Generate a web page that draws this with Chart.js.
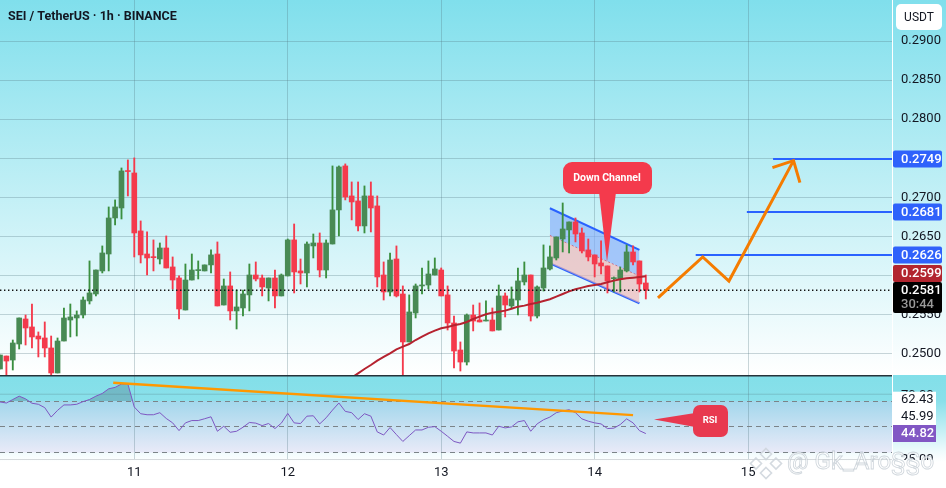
<!DOCTYPE html>
<html>
<head>
<meta charset="utf-8">
<title>SEI / TetherUS</title>
<script src="https://cdn.jsdelivr.net/npm/chart.js@4"></script>
<style>
  html, body { margin: 0; padding: 0; background: #fff; }
  #wrap { width: 946px; height: 488px; }
</style>
</head>
<body>
<div id="wrap"><canvas id="c"></canvas></div>
<script>
const firstHour = -21;
const opens = [.24802,.24968,.24917,.25122,.25442,.25340,.25224,.25199,.25071,.24751,.25160,.25429,.25455,.25493,.25673,.25762,.26057,.26274,.26735,.26863,.27337,
  .27311,.26569,.26274,.26236,.26210,.26351,.26108,.25967,.25557,.25941,.26061,.26057,.26134,.26274,.25621,.25865,.25545,.25583,.25750,.26005,.25967,.25839,.25967,.25737,.25993,
  .26454,.26057,.26031,.26377,.26415,.26069,.26402,.26838,.27401,.27017,.26953,.26633,.27017,.26889,.26005,.25788,.26210,.25762,.25148,.25519,.25865,.25877,.26005,.26069,.25750,
  .25391,.25045,.24891,.25493,.25429,.25416,.25429,.25301,.25737,.25609,.25685,.25916,.26005,.25480,.25839,.26082,.26223,.26466,.26582,.26684,.26543,.26326,.26262,.26159,.26121,
  .25958,.25954,.26057,.26300,.26185,.25903];
const highs = [.24981,.24968,.25173,.25455,.25493,.25634,.25276,.25404,.25224,.25199,.25583,.25634,.25545,.25724,.26185,.26069,.26377,.26876,.26966,.27375,.27478,
  .27504,.26697,.26556,.26454,.26415,.26505,.26236,.25993,.26146,.26274,.26185,.26134,.26326,.26428,.25954,.26044,.25813,.25813,.26146,.26172,.26005,.25967,.26069,.26018,.26466,
  .26658,.26210,.26428,.26530,.26543,.26454,.27401,.27401,.27427,.27196,.27196,.27145,.27196,.27017,.26172,.26287,.26377,.25865,.25750,.25890,.26095,.26185,.26223,.26095,.25865,
  .25480,.25148,.25506,.25621,.25647,.25673,.25583,.25877,.25775,.25852,.26095,.26172,.26005,.25865,.26390,.26377,.26492,.26927,.26684,.26735,.26607,.26466,.26262,.26441,.26121,
  .25980,.26108,.26390,.26377,.26185,.26005];
const lows = [.24802,.24725,.24789,.25058,.25109,.25071,.24956,.24956,.24725,.24751,.25160,.25212,.25224,.25455,.25634,.25737,.26031,.26057,.26646,.26722,.27017,
  .26236,.26159,.26005,.26057,.26146,.26095,.25826,.25442,.25557,.25941,.25954,.26057,.26031,.25609,.25621,.25429,.25314,.25480,.25545,.25929,.25737,.25673,.25583,.25737,.25993,
  .25775,.25890,.25852,.26223,.25980,.25967,.26402,.26505,.26966,.26710,.26569,.26543,.26556,.25852,.25685,.25737,.25724,.24725,.25148,.25455,.25762,.25826,.26005,.25737,.25301,
  .24815,.24776,.24853,.25289,.25404,.25416,.25289,.25301,.25468,.25583,.25493,.25877,.25416,.25455,.25800,.26069,.26197,.26300,.26287,.26428,.26287,.26185,.25980,.26018,.25775,
  .25788,.25788,.26044,.26134,.25788,.25698];
const closes = [.24981,.24904,.25135,.25455,.25327,.25212,.25186,.25071,.24751,.25160,.25455,.25468,.25493,.25685,.25775,.26069,.26287,.26735,.26876,.27337,.27329,
  .26543,.26262,.26223,.26227,.26351,.26095,.25941,.25570,.25941,.26069,.26069,.26134,.26262,.25609,.25865,.25545,.25596,.25762,.26005,.25954,.25852,.25967,.25737,.26005,.26454,
  .26044,.26031,.26402,.26415,.26069,.26415,.26838,.27388,.27004,.26940,.26633,.27017,.26863,.25980,.25788,.26197,.25737,.25148,.25532,.25865,.25877,.26018,.26082,.25737,.25391,
  .25032,.24891,.25493,.25416,.25404,.25429,.25289,.25737,.25621,.25698,.25929,.26005,.25480,.25852,.26095,.26236,.26492,.26594,.26684,.26530,.26313,.26236,.26146,.26121,.25929,
  .25967,.26069,.26300,.26172,.25890,.25810];

const emaHours = [34,35,36,37,38,39,40,41,42,43,44,45,46,47,48,49,50,51,52,53,54,55,56,57,58,59,60,61,62,63,64,65,66,67,68,69,70,71,72,73,74,75,76,77,78,79,80];
const emaValues = [.24690,.24746,.24802,.24853,.24909,.24956,.25003,.25054,.25088,.25122,.25173,.25216,.25259,.25293,.25323,.25340,.25361,.25378,.25404,.25442,.25472,.25502,.25523,.25536,.25549,
  .25574,.25600,.25613,.25634,.25651,.25673,.25694,.25728,.25762,.25796,.25822,.25843,.25865,.25877,.25890,.25912,.25933,.25950,.25963,.25971,.25980,.25988];

const rsiValues = [69.3,68.5,71.2,73.8,71.7,68.3,67.5,64.9,57.6,62.8,67.0,67.0,67.5,69.6,71.2,73.8,75.9,79.5,80.6,83.2,83.2,
  65.4,60.2,59.4,59.4,61.0,56.5,53.1,47.1,53.1,54.9,54.9,56.3,57.8,46.6,50.5,45.8,46.6,49.7,53.4,52.9,51.0,52.6,48.7,52.9,60.4,
  53.1,52.6,58.3,58.6,52.3,57.0,63.0,68.5,62.0,61.0,55.7,60.2,58.3,46.1,43.7,49.5,44.0,38.7,43.2,47.6,47.6,49.7,50.2,46.6,42.7,
  38.7,37.4,46.1,45.3,45.3,45.3,43.7,50.5,49.2,50.0,53.9,54.9,46.6,52.3,55.5,57.6,61.0,62.3,63.3,61.0,56.2,54.4,53.1,52.3,48.7,49.0,51.8,56.2,53.1,47.1,44.8];

const channelHours = [65, 79];
const channelTop = [.26859, .26326];
const channelMid = [.26513, .25993];
const channelBottom = [.26155, .25643];

const projectionHours = [81.9, 88.9, 93.0, 103.1];
const projectionPrices = [.25711, .26236, .25928, .27469];
const arrowWingHours = [99.8, 103.1, 104.1];
const arrowWingPrices = [.27379, .27469, .27187];

const targetPrices = [.2749, .2681, .2626];
const targetStartHours = [99.9, 95.8, 87.8];

const rsiTrendHours = [-3.3, 78];
const rsiTrendValues = [84.2, 59.1];
const rsiGuide = 75.3;

const dayHours = [0, 24, 48, 72, 96];
const dayLabels = ["11", "12", "13", "14", "15"];
const priceTicks = [.25, .255, .26, .265, .27, .275, .28, .285, .29];
const rsiTicks = [30, 50, 70];

const lastPrice = .2581;
const lastEma = .2599;

const X_MIN = -21, X_MAX = 118.5;
const FONT = 'Roboto, "Noto Sans", sans-serif';
const UP = "#488a54", UP_WICK = "#3a8f3f", DOWN = "#f43a4c";

const hours = opens.map(function (_, k) { return firstHour + k; });
const barColor = hours.map(function (_, k) { return closes[k] >= opens[k] ? UP : DOWN; });
const wickColor = hours.map(function (_, k) { return closes[k] >= opens[k] ? UP_WICK : DOWN; });

function pts(xs, ys) {
  return xs.map(function (x, k) { return { x: x, y: ys[k] }; });
}

function lineSet(data, color, width, order, extra) {
  return Object.assign({
    type: "line", data: data, borderColor: color, borderWidth: width,
    pointRadius: 0, tension: 0, fill: false, order: order,
    xAxisID: "x", yAxisID: "y",
  }, extra || {});
}

// label overhang would otherwise push the plot area in from the canvas edges
function noPadding(s) {
  s.paddingTop = 0;
  s.paddingBottom = 0;
  s.paddingLeft = 0;
  s.paddingRight = 0;
}

function roundRect(ctx, x, y, w, h, r) {
  ctx.beginPath();
  ctx.roundRect(x, y, w, h, r);
  ctx.fill();
}

function drawTag(ctx, text, top, height, color) {
  ctx.fillStyle = color;
  roundRect(ctx, 893, top, 49, height, 2);
  ctx.fillStyle = "#fff";
  ctx.font = "500 13px " + FONT;
  ctx.textAlign = "left";
  ctx.textBaseline = "middle";
  ctx.fillText(text, 901, top + height / 2 + 0.5);
}

const paintPlugin = {
  id: "paint",
  beforeDraw: function (chart) {
    const ctx = chart.ctx;
    const rsi = chart.scales.rsi;
    const top = rsi.top;
    const main = ctx.createLinearGradient(0, 0, 0, top);
    main.addColorStop(0, "#80dfec");
    main.addColorStop(1, "#ffffff");
    ctx.fillStyle = main;
    ctx.fillRect(0, 0, 946, top);

    const sub = ctx.createLinearGradient(0, top, 0, 462);
    sub.addColorStop(0, "#82dfe9");
    sub.addColorStop(0.3, "#8ae0ea");
    sub.addColorStop(0.885, "#f0fbfd");
    sub.addColorStop(1, "#ffffff");
    ctx.fillStyle = sub;
    ctx.fillRect(0, top, 946, 462 - top);

    const y70 = rsi.getPixelForValue(70), y30 = rsi.getPixelForValue(30);
    const band = ctx.createLinearGradient(0, y70, 0, y30);
    band.addColorStop(0, "#a3d7ec");
    band.addColorStop(1, "#e9eaf8");
    ctx.fillStyle = band;
    ctx.fillRect(0, y70, 892, y30 - y70);
  },
  afterDatasetsDraw: function (chart) {
    const ctx = chart.ctx;
    const y = chart.scales.y;
    ctx.save();

    // panel borders
    ctx.fillStyle = "#fff";
    ctx.fillRect(892, 0, 1, 459);
    ctx.fillStyle = "#26323a";
    ctx.fillRect(0, 375, 892, 1.5);
    ctx.fillStyle = "#d5d9dc";
    ctx.fillRect(0, 459, 892, 1);

    // title
    ctx.fillStyle = "#131722";
    ctx.font = "bold 12.5px " + FONT;
    ctx.textAlign = "left";
    ctx.textBaseline = "middle";
    ctx.fillText("SEI / TetherUS \u00b7 1h \u00b7 BINANCE", 8, 17);

    // USDT button
    ctx.fillStyle = "#fff";
    roundRect(ctx, 896, 4, 46, 26, 5);
    ctx.fillStyle = "#131722";
    ctx.font = "12px " + FONT;
    ctx.textAlign = "center";
    ctx.fillText("USDT", 919, 18);

    // price tags
    targetPrices.forEach(function (p) {
      const py = y.getPixelForValue(p);
      drawTag(ctx, p.toFixed(4), py - 8.5, 17, "#2f62fb");
    });
    drawTag(ctx, lastEma.toFixed(4), 265, 17, "#b2252f");
    ctx.fillStyle = "#000";
    roundRect(ctx, 893, 282, 49, 31, 2);
    ctx.fillStyle = "#fff";
    ctx.font = "500 13px " + FONT;
    ctx.textAlign = "left";
    ctx.fillText(lastPrice.toFixed(4), 901, 291);
    ctx.fillStyle = "#9a9a9a";
    ctx.fillText("30:44", 901, 305);

    // Down Channel callout
    ctx.fillStyle = "#f43a4c";
    roundRect(ctx, 563, 162, 89, 32, 9);
    ctx.beginPath();
    ctx.moveTo(599, 192);
    ctx.lineTo(616, 192);
    ctx.lineTo(607, 262);
    ctx.closePath();
    ctx.fill();
    ctx.fillStyle = "#fff";
    ctx.font = "bold 10.5px " + FONT;
    ctx.textAlign = "center";
    ctx.fillText("Down Channel", 607, 178);

    // RSI callout
    ctx.fillStyle = "#e8394f";
    roundRect(ctx, 693, 405, 35, 32, 7);
    ctx.beginPath();
    ctx.moveTo(695, 413);
    ctx.lineTo(695, 427);
    ctx.lineTo(654, 419.5);
    ctx.closePath();
    ctx.fill();
    ctx.fillStyle = "#fff";
    ctx.font = "bold 9.5px " + FONT;
    ctx.fillText("RSI", 710, 421);

    // RSI axis labels, half hidden like the reference
    ctx.font = "13px " + FONT;
    ctx.textAlign = "left";
    ctx.save();
    ctx.beginPath();
    ctx.rect(893, 376, 53, 84);
    ctx.clip();
    ctx.fillStyle = "#131722";
    ctx.fillText("70.00", 901, 396);
    ctx.fillText("25.00", 901, 459.5);
    ctx.restore();
    ctx.fillStyle = "#fff";
    ctx.fillRect(893, 391.7, 43, 33.5);
    ctx.fillStyle = "#131722";
    ctx.fillText("62.43", 901, 399.5);
    ctx.fillText("45.99", 901, 417);
    ctx.fillStyle = "#8257c4";
    ctx.fillRect(893, 425, 43, 17);
    ctx.fillStyle = "#fff";
    ctx.font = "500 13px " + FONT;
    ctx.fillText("44.82", 901, 433.8);

    // watermark
    ctx.fillStyle = "rgba(255,255,255,.7)";
    ctx.font = "24px " + FONT;
    ctx.fillText("@ Gk_Aro\u00a7\u00a7o", 787, 463);
    ctx.strokeStyle = "rgba(165,178,190,.55)";
    ctx.lineWidth = 0.8;
    ctx.strokeText("@ Gk_Aro\u00a7\u00a7o", 787, 463);
    ctx.strokeStyle = "rgba(205,212,218,.85)";
    ctx.lineWidth = 1.6;
    [[766, 454], [756, 463.5], [776, 463.5], [766, 473]].forEach(function (d) {
      ctx.beginPath();
      ctx.moveTo(d[0], d[1] - 5.5);
      ctx.lineTo(d[0] + 5.5, d[1]);
      ctx.lineTo(d[0], d[1] + 5.5);
      ctx.lineTo(d[0] - 5.5, d[1]);
      ctx.closePath();
      ctx.stroke();
    });

    ctx.restore();
  },
};

const gridColor = "rgba(84,118,128,.3)";

new Chart(document.getElementById("c"), {
  data: {
    datasets: [
      lineSet(pts(channelHours, channelTop), "#2962ff", 2, 10, { fill: "+1", backgroundColor: "rgba(130,170,250,.62)" }),
      lineSet(pts(channelHours, channelMid), "#e0555f", 1, 10, { fill: "+1", backgroundColor: "rgba(242,178,178,.62)", borderDash: [2, 2] }),
      lineSet(pts(channelHours, channelBottom), "#2962ff", 2, 10),
      {
        type: "bar", order: 6, xAxisID: "x", yAxisID: "y", grouped: false,
        data: hours.map(function (h, k) { return { x: h, y: [lows[k], highs[k]] }; }),
        backgroundColor: wickColor, barThickness: 1.2,
      },
      {
        type: "bar", order: 5, xAxisID: "x", yAxisID: "y", grouped: false,
        data: hours.map(function (h, k) { return { x: h, y: [opens[k], closes[k]] }; }),
        backgroundColor: barColor, barThickness: 5, minBarLength: 1,
      },
      lineSet(pts(emaHours, emaValues), "#b5222f", 2, 4),
      lineSet(pts([X_MIN, X_MAX], [lastPrice, lastPrice]), "#111", 1.4, 1, { borderDash: [1.4, 2.6] }),
      lineSet(pts([targetStartHours[0], X_MAX], [targetPrices[0], targetPrices[0]]), "#2962ff", 2, 2),
      lineSet(pts([targetStartHours[1], X_MAX], [targetPrices[1], targetPrices[1]]), "#2962ff", 2, 2),
      lineSet(pts([targetStartHours[2], X_MAX], [targetPrices[2], targetPrices[2]]), "#2962ff", 2, 2),
      lineSet(pts(projectionHours, projectionPrices), "#f57c00", 3, 0),
      lineSet(pts(arrowWingHours, arrowWingPrices), "#f57c00", 3, 0),
      lineSet(pts([X_MIN, X_MAX], [rsiGuide, rsiGuide]), gridColor, 1, 8, { yAxisID: "rsi" }),
      lineSet(pts(hours, rsiValues), "#7e57c2", 1, 3, {
        yAxisID: "rsi",
        fill: { target: { value: 70 }, above: "rgba(70,105,125,.32)", below: "rgba(0,0,0,0)" },
      }),
      lineSet(pts(rsiTrendHours, rsiTrendValues), "#ff9800", 2.4, 0, { yAxisID: "rsi" }),
    ],
  },
  options: {
    responsive: true,
    maintainAspectRatio: false,
    animation: false,
    events: [],
    layout: { padding: 0 },
    plugins: { legend: { display: false }, tooltip: { enabled: false } },
    scales: {
      x: {
        type: "linear", min: X_MIN, max: X_MAX, offset: false,
        afterBuildTicks: function (s) { s.ticks = dayHours.map(function (v) { return { value: v }; }); },
        afterFit: function (s) { s.height = 29; noPadding(s); },
        border: { display: false },
        grid: { color: gridColor, drawTicks: false, offset: false },
        ticks: {
          autoSkip: false, maxRotation: 0, padding: 6, color: "#131722", font: { family: FONT, size: 13 },
          callback: function (v) { return dayLabels[dayHours.indexOf(v)]; },
        },
      },
      y: {
        type: "linear", position: "right", stack: "panes", stackWeight: 375, weight: 1,
        min: .24725, max: .29525,
        afterBuildTicks: function (s) { s.ticks = priceTicks.map(function (v) { return { value: v }; }); },
        afterFit: function (s) { s.width = 54; noPadding(s); },
        border: { display: false },
        grid: { color: gridColor, drawTicks: false },
        ticks: {
          autoSkip: false, crossAlign: "near", padding: 9, color: "#131722", font: { family: FONT, size: 13 },
          callback: function (v) { return v.toFixed(4); },
        },
      },
      rsi: {
        type: "linear", position: "right", stack: "panes", stackWeight: 84, weight: 2,
        min: 25.1, max: 90.2,
        afterBuildTicks: function (s) { s.ticks = rsiTicks.map(function (v) { return { value: v }; }); },
        afterFit: function (s) { s.width = 54; noPadding(s); },
        border: { display: false, dash: [5, 4] },
        grid: { color: "#7b8388", drawTicks: false },
        ticks: { display: false },
      },
    },
  },
  plugins: [paintPlugin],
});
</script>
</body>
</html>
